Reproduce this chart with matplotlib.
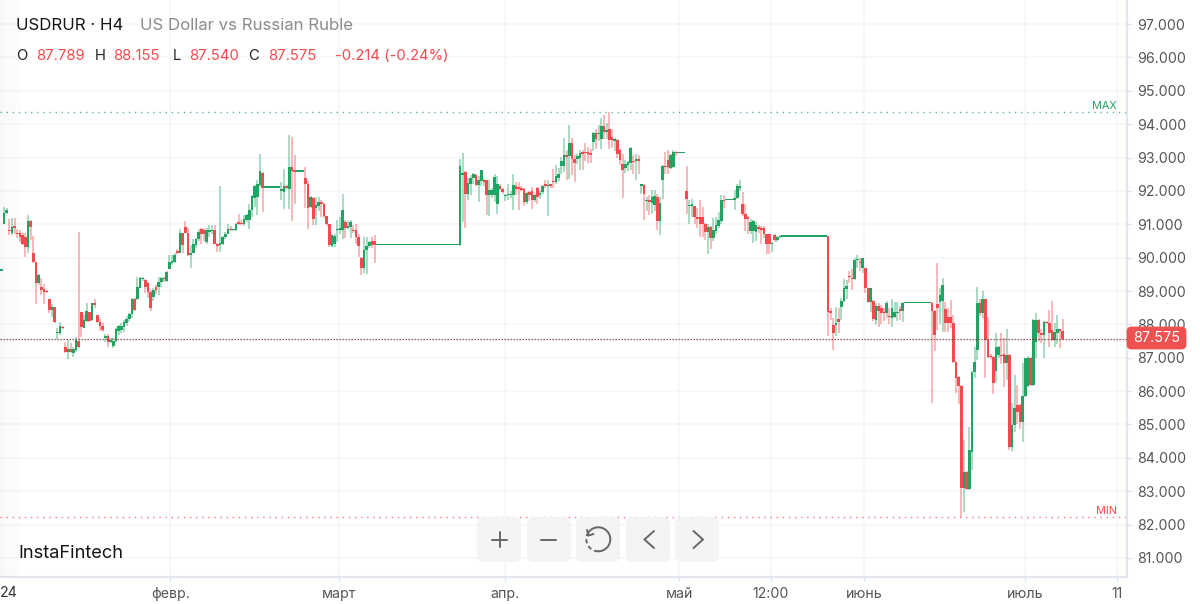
"""USDRUR H4 candlestick screen, InstaFintech style."""
import numpy as np
import matplotlib; matplotlib.use("Agg"); import matplotlib.pyplot as plt
from matplotlib.patches import FancyBboxPatch

plt.rcParams["font.family"] = ["Inter", "DejaVu Sans"]

# ---------------- candles ----------------
# jan -> mid feb
open_1 = [89.61,91.01,91.35,90.81,90.73,90.95,90.75,90.73,90.68,90.63,
          90.33,91.11,90.15,89.88,89.23,89.11,89.05,89.0,88.75,88.43,
          88.51,87.73,87.73,87.93,87.31,87.17,87.25,87.13,87.23,87.51,
          88.37,87.89,88.11,88.36,88.13,88.63,88.29,88.08,87.95,87.58,
          87.65,87.48,87.35,87.51,87.81,87.83,87.93,88.05,88.17,88.31,
          88.77,88.75,89.1,89.36,89.33,89.23,88.98,88.83,89.11,89.11,
          89.26,89.39,89.31,89.65,89.85,89.87,90.21,90.15,90.73,90.93,
          90.75,90.08,90.15,90.38,90.55,
          90.85,90.84,90.47,90.77,90.8,90.84,90.42,90.38,90.42,90.62,
          90.72,90.87,90.82,90.83,91.07,91.04,91.0,91.12,91.14,91.42,
          91.8,91.82,92.17,92.54]
high_1 = [89.65,91.53,91.48,91.15,91.2,91.2,90.85,90.82,90.73,90.73,
          91.28,91.13,90.65,89.88,89.5,89.38,89.21,89.03,88.75,88.61,
          88.51,87.88,88.08,87.95,87.48,87.53,87.43,87.33,87.61,90.76,
          88.37,88.28,88.63,88.38,88.65,88.76,88.29,88.15,88.03,87.71,
          87.7,87.58,87.58,87.88,87.98,88.05,88.13,88.25,88.33,88.78,
          88.78,89.41,89.43,89.43,89.35,89.28,89.03,89.08,89.18,89.41,
          89.41,89.42,89.6,90.08,90.08,90.13,90.25,90.85,90.73,91.11,
          90.88,90.38,90.55,90.58,90.85,
          90.9,90.88,90.9,90.97,90.97,90.97,90.45,92.14,90.66,90.76,
          91.02,90.95,90.87,91.03,91.3,91.12,91.27,91.3,91.6,91.87,
          92.17,92.32,93.1,92.57]
low_1 = [89.61,91.0,91.31,90.68,90.68,90.7,90.6,90.48,90.38,90.03,
         90.13,90.53,89.83,88.61,89.18,88.88,88.61,88.93,88.33,88.23,
         88.05,87.55,87.68,87.87,87.15,86.97,87.13,87.01,87.18,87.28,
         87.63,87.88,88.08,88.08,88.11,88.48,88.05,87.81,87.78,87.48,
         87.31,87.43,87.28,87.48,87.68,87.73,87.78,87.95,88.08,88.18,
         88.4,88.73,89.08,89.31,88.93,88.78,88.41,88.71,88.9,88.88,
         89.11,89.28,89.28,89.65,89.78,89.83,90.11,90.13,90.15,90.73,
         90.05,89.68,90.13,90.28,90.5,
         90.4,90.5,90.42,90.62,90.7,90.4,90.17,90.17,90.38,90.55,
         90.7,90.8,90.8,90.8,90.98,90.97,90.96,91.08,90.87,91.22,
         91.52,91.27,92.12,91.37]
close_1 = [89.65,91.35,91.43,90.79,90.93,90.9,90.71,90.63,90.41,90.33,
           91.11,90.91,89.88,89.25,89.49,89.03,88.98,88.97,88.43,88.51,
           88.08,87.78,87.95,87.89,87.17,87.25,87.18,87.25,87.53,87.31,
           87.93,88.13,88.41,88.11,88.63,88.59,88.07,87.95,87.83,87.65,
           87.48,87.53,87.51,87.85,87.95,87.95,88.08,88.17,88.31,88.77,
           88.43,89.11,89.4,89.4,89.11,88.98,88.48,89.03,89.03,89.28,
           89.4,89.35,89.58,89.88,89.91,90.08,90.13,90.73,90.38,90.75,
           90.08,90.15,90.41,90.55,90.78,
           90.72,90.72,90.82,90.84,90.84,90.42,90.36,90.44,90.62,90.72,
           90.87,90.82,90.84,91.02,91.0,91.0,91.17,91.27,91.42,91.84,
           92.14,92.2,92.6,92.1]
flat_1 = [92.1] * 6

open_2 = [92.0,91.98,92.14,92.07,92.72,92.62]
high_2 = [92.27,92.67,92.17,93.67,93.6,93.07]
low_2 = [91.72,91.47,92.05,91.47,91.1,91.62]
close_2 = [92.07,92.14,92.08,92.72,92.59,92.58]
flat_2 = [92.58] * 3

# late feb -> mid march
open_3 = [92.4,92.22,91.52,91.8,91.5,91.54,91.66,91.62,91.24,91.0,
          90.34,90.42,90.82,90.84,90.84,91.07,90.9,90.92,90.84,90.84,
          90.62,90.0,89.7,90.22,90.34,90.5,90.5]
high_3 = [92.72,92.3,91.85,91.82,91.82,91.82,91.72,91.65,91.26,91.02,
          90.72,90.7,91.14,91.22,91.9,91.12,91.1,91.12,90.98,91.0,
          90.72,90.02,90.62,90.62,90.5,90.62,90.67]
low_3 = [91.5,90.87,91.5,90.97,90.97,91.4,91.22,91.2,90.95,90.32,
         90.32,90.32,90.47,90.72,90.57,90.6,90.85,90.6,90.75,90.42,
         90.02,89.47,89.54,89.52,90.3,90.3,89.85]
close_3 = [92.22,91.5,91.82,91.17,91.57,91.67,91.6,91.24,91.0,90.37,
           90.67,90.64,90.87,90.9,91.42,90.9,90.94,91.07,90.79,90.62,
           90.34,89.7,90.24,90.34,90.47,90.37,90.37]
flat_3 = [90.37] * 31

# apr -> may
open_4 = [90.37,92.47,92.57,91.92,92.22,92.38,92.47,92.17,92.3,92.34,
          92.32,91.87,91.87,91.87,91.6,92.16,92.07,91.85,91.88,91.88,
          91.87,92.14,92.1,92.1,92.07,91.67,91.97,92.0,91.72,92.1,
          91.87,91.97,92.22,92.14,92.2,92.3,92.27,92.4,92.75,92.75,
          93.09,93.04,93.44,92.97,92.96,92.99,93.17,93.16,93.17,93.14,
          93.47,93.72,93.7,93.54,93.94,93.77,93.84,93.6,93.5,93.52,
          93.22,92.8,92.68,92.77,92.84,92.9,92.9,92.97,92.16,92.18,
          91.7,91.72,91.64,91.57,91.82,91.1,92.32,92.76,92.92,92.7,
          92.72,93.17]
high_4 = [92.97,93.14,92.6,92.4,92.47,92.55,92.52,92.44,92.62,92.36,
          92.32,92.32,92.1,92.52,92.44,92.2,92.1,91.92,92.2,92.0,
          92.52,92.27,92.27,92.16,92.1,91.97,92.0,92.12,91.9,92.12,
          92.0,92.17,92.32,92.32,92.22,92.67,92.77,92.7,93.02,93.57,
          93.22,93.97,93.57,93.07,93.1,93.24,93.22,93.44,93.32,93.27,
          93.77,93.84,93.97,94.17,94.27,94.02,94.36,93.84,93.58,93.54,
          93.27,93.12,92.92,92.9,93.32,93.07,93.12,93.07,92.22,92.2,
          91.82,91.87,92.04,92.04,91.92,91.82,92.77,93.17,93.22,93.12,
          93.22,93.2]
low_4 = [90.35,91.07,90.9,91.72,91.87,92.2,92.14,91.67,92.14,92.15,
         91.27,91.24,91.8,91.67,91.32,92.04,91.9,91.7,91.72,91.8,
         91.44,91.87,91.44,92.0,91.54,91.62,91.7,91.47,91.67,91.62,
         91.75,91.9,92.1,91.25,92.1,92.1,92.2,92.3,92.5,92.57,
         92.32,92.37,92.47,92.27,92.8,92.62,92.62,92.9,92.84,92.84,
         93.2,93.27,93.5,93.27,93.54,93.55,93.27,93.3,93.2,93.0,
         92.77,91.8,92.54,92.6,92.62,92.5,92.32,92.5,91.9,91.12,
         91.4,91.27,91.3,91.4,90.82,90.67,91.76,92.52,92.5,92.67,
         92.7,93.05]
close_4 = [92.74,92.54,91.92,92.24,92.4,92.52,92.17,92.32,92.62,92.27,
           91.87,92.04,92.04,92.42,92.22,92.07,91.97,91.89,91.9,91.92,
           92.17,92.07,92.07,92.04,91.67,91.94,91.87,91.74,91.87,91.82,
           91.94,92.14,92.16,92.18,92.15,92.27,92.44,92.5,92.9,93.09,
           93.02,93.44,92.97,92.84,93.04,93.14,93.12,93.14,93.12,93.07,
           93.74,93.54,93.73,93.94,93.77,93.82,93.52,93.52,93.54,93.12,
           92.94,92.62,92.8,92.87,93.3,92.87,92.97,92.89,92.2,91.9,
           91.74,91.67,91.82,91.84,91.1,91.65,92.74,92.72,92.72,93.07,
           93.17,93.14]
flat_4 = [93.14] * 3

open_5 = [92.0,91.54,91.56,91.54,91.22,91.22,91.22,91.02,90.77,90.92,
          90.6,90.8,90.94,91.1,91.74]
high_5 = [92.74,91.74,91.76,91.56,91.5,91.72,91.52,91.05,91.02,90.94,
          91.2,91.22,91.37,91.87,91.87]
low_5 = [91.32,91.02,91.22,91.0,90.9,90.62,90.62,90.52,90.1,90.27,
         90.5,90.7,90.9,91.0,91.5]
close_5 = [91.76,91.57,91.6,91.22,91.17,91.02,91.0,90.77,90.92,90.6,
           90.82,90.97,91.12,91.74,91.7]
flat_5 = [91.72] * 3

open_6 = [91.72,91.8,92.1,91.6,91.32,91.2,90.8,90.8,90.77,90.92,
          90.9,90.9,90.7,90.7,90.4,90.67,90.52,90.61]
high_6 = [92.02,92.2,92.32,91.97,91.62,91.25,91.17,91.14,91.07,90.97,
          90.95,90.94,90.72,90.72,90.46,90.7,90.65,90.67]
low_6 = [91.44,91.75,92.0,91.25,90.8,90.7,90.7,90.44,90.5,90.75,
         90.42,90.6,90.1,90.1,90.17,90.47,90.48,90.58]
close_6 = [91.8,92.14,92.16,91.32,91.17,91.17,91.07,91.1,90.97,90.87,
           90.82,90.72,90.42,90.4,90.44,90.54,90.62,90.64]
flat_6 = [90.63] * 17

# end of may -> mid june
open_7 = [90.65,88.41,87.98,87.98,88.15,88.53,88.71,89.05,89.45,89.4,
          89.35,89.92,89.88,89.68,89.68,89.08,88.68,88.71,88.13,88.55,
          88.48,88.38,88.35,88.25,88.18,88.23,88.35,88.45,88.41]
high_7 = [90.65,88.48,88.2,88.53,88.48,88.78,89.35,89.33,89.61,89.65,
          90.0,90.08,90.0,90.0,89.7,89.1,89.1,88.73,88.63,88.63,
          88.58,88.48,88.71,88.48,88.75,88.68,88.68,88.55,88.68]
low_7 = [87.64,88.13,87.23,87.65,87.75,88.13,88.68,88.75,89.25,89.03,
         89.33,89.7,89.6,89.53,88.95,88.63,88.38,88.1,87.98,87.91,
         88.0,88.1,88.2,88.0,87.91,88.18,88.1,88.13,88.08]
close_7 = [88.38,88.33,87.75,88.03,88.08,88.71,89.08,89.15,89.41,89.35,
           89.93,89.96,89.83,89.98,89.08,88.68,89.08,88.15,88.55,88.41,
           88.35,88.33,88.63,88.21,88.48,88.38,88.38,88.41,88.65]
flat_7 = [88.65] * 10

# june -> july
open_8 = [88.65,88.41,88.6,88.68,88.71,88.45,88.21,88.21,88.05,86.88,
          86.43,86.15,83.1,83.58,83.08,84.18,86.58,87.23,88.63,88.33,
          88.75,87.53,87.05,87.03,86.6,87.08,87.08,87.1,86.83,87.08,
          84.33,84.98,85.58,85.58,85.08,85.85,86.15,87.0,86.18,87.48,
          88.13,87.75,87.68,88.08,88.05,87.83,87.53,87.75,87.85,87.789]
high_8 = [88.68,88.43,89.85,89.08,89.38,88.68,88.48,88.73,88.28,86.9,
          86.45,86.17,84.53,83.6,84.93,86.6,87.33,89.11,88.75,89.0,
          88.77,88.23,87.1,87.05,87.75,87.35,87.75,87.58,87.85,87.1,
          85.63,86.48,86.18,85.6,86.83,87.0,87.05,87.02,88.15,88.35,
          88.15,87.85,88.1,88.1,88.43,88.7,88.03,88.28,87.87,88.155]
low_8 = [85.63,87.21,87.83,88.0,87.78,87.78,87.78,87.9,86.85,85.95,
         85.6,82.23,82.38,83.05,83.05,83.65,86.4,86.93,88.25,88.2,
         86.4,87.0,86.95,85.9,86.28,87.0,86.8,86.13,86.33,84.23,
         84.2,84.78,85.0,84.85,84.48,85.83,86.13,86.15,86.15,87.0,
         87.5,87.45,87.0,88.0,87.33,87.5,87.33,87.4,87.28,87.54]
close_8 = [88.41,87.68,88.48,88.88,89.18,88.03,88.03,88.05,86.88,86.38,
           86.15,83.1,83.58,83.08,84.23,86.58,86.88,88.63,88.33,88.75,
           87.53,87.03,87.01,86.23,87.33,87.33,87.05,86.83,87.08,84.33,
           84.98,85.48,85.38,85.08,85.85,86.98,87.0,86.18,88.13,88.13,
           87.73,87.68,88.08,88.03,87.73,87.53,87.78,87.85,87.81,87.575]

# tick labels and reference levels
price_ticks = [81, 82, 83, 84, 85, 86, 87, 88, 89, 90, 91, 92, 93, 94, 95, 96, 97]
time_ticks = [63.4, 126.6, 189, 254.2, 288.5, 323.6, 383.9, 418.4]
time_labels = ["февр.", "март", "апр.", "май", "12:00", "июнь", "июль", "11"]
MAX_LEVEL = 94.36
MIN_LEVEL = 82.23
LAST = 87.575

GREEN, RED = "#1fa463", "#f44a4f"
GRID = "#f5f5f5"
AXIS = "#e1e6ec"

opens = np.array(open_1 + flat_1 + open_2 + flat_2 + open_3 + flat_3 + open_4 + flat_4
                 + open_5 + flat_5 + open_6 + flat_6 + open_7 + flat_7 + open_8)
highs = np.array(high_1 + flat_1 + high_2 + flat_2 + high_3 + flat_3 + high_4 + flat_4
                 + high_5 + flat_5 + high_6 + flat_6 + high_7 + flat_7 + high_8)
lows = np.array(low_1 + flat_1 + low_2 + flat_2 + low_3 + flat_3 + low_4 + flat_4
                + low_5 + flat_5 + low_6 + flat_6 + low_7 + flat_7 + low_8)
closes = np.array(close_1 + flat_1 + close_2 + flat_2 + close_3 + flat_3 + close_4 + flat_4
                  + close_5 + flat_5 + close_6 + flat_6 + close_7 + flat_7 + close_8)
assert len(opens) == len(highs) == len(lows) == len(closes), (len(opens), len(highs), len(lows), len(closes))
idx = np.arange(len(opens))
up = closes >= opens
colors = np.where(up, GREEN, RED)

fig = plt.figure(figsize=(12, 6.04), dpi=100)
ax = fig.add_axes([0, 27 / 604, 1127 / 1200, 577 / 604])
ax.set_xlim(-0.5, 422.1)
ax.set_ylim(80.43, 97.72)

ax.vlines(idx, lows, highs, colors=colors, lw=1.2, alpha=0.45, zorder=3)
ax.bar(idx, np.maximum(np.abs(closes - opens), 0.035), bottom=np.minimum(opens, closes),
       width=1.0, color=colors, lw=0, zorder=4)

ax.axhline(MAX_LEVEL, color=GREEN, lw=1, ls=(0, (1, 3.4)), alpha=0.75, zorder=2)
ax.axhline(MIN_LEVEL, color=RED, lw=1, ls=(0, (1, 3.4)), alpha=0.75, zorder=2)
ax.axhline(LAST, color="#7a2c2c", lw=0.9, ls=(0, (1, 1.4)), zorder=5)

ax.set_yticks(price_ticks, [f"{p:.3f}" for p in price_ticks])
ax.set_xticks(time_ticks, time_labels)
ax.yaxis.tick_right()
ax.grid(color=GRID, lw=1.1, zorder=0)
ax.set_axisbelow(True)
ax.tick_params(axis="both", length=3.5, width=1, color=AXIS, labelcolor="#555555", labelsize=10.2)
ax.tick_params(axis="y", pad=3.5)
ax.tick_params(axis="x", pad=3.8)
for side in ("top", "left"):
    ax.spines[side].set_visible(False)
for side in ("right", "bottom"):
    ax.spines[side].set_color(AXIS)
    ax.spines[side].set_linewidth(1.6)

# ---------------- screen furniture, in image pixels ----------------
ov = fig.add_axes([0, 0, 1, 1], zorder=5)
ov.patch.set_alpha(0)
ov.set_xlim(0, 1200); ov.set_ylim(604, 0); ov.axis("off")

# soft fade on the left edge
fade = np.zeros((1, 24, 4)); fade[..., :3] = 0.5
fade[..., 3] = np.linspace(0.05, 0, 24)
ov.imshow(fade, extent=(0, 24, 577, 0), aspect="auto", zorder=1)
ov.set_xlim(0, 1200); ov.set_ylim(604, 0)

ov.text(16, 26, "USDRUR · H4", fontsize=12.1, color="#151515", va="center")
ov.text(140, 26, "US Dollar vs Russian Ruble", fontsize=12.1, color="#8c8c8c", va="center")
for x, s, c in [(16, "O", "#222222"), (36, "87.789", RED), (95, "H", "#222222"), (113, "88.155", RED),
                (173, "L", "#222222"), (189, "87.540", RED), (248, "C", "#222222"), (268, "87.575", RED),
                (335, "-0.214 (-0.24%)", RED)]:
    ov.text(x, 56, s, fontsize=10.7, color=c, va="center")
ov.text(18, 553, "InstaFintech", fontsize=13.2, color="#151515", va="center")
ov.text(0, 593, "24", fontsize=10.2, color="#333333", va="center")
ov.text(1117, 106, "MAX", fontsize=7.8, color=GREEN, va="center", ha="right")
ov.text(1117, 511, "MIN", fontsize=7.8, color=RED, va="center", ha="right")

# last price tag
ov.add_patch(FancyBboxPatch((1130, 330), 53, 16, boxstyle="round,pad=3.4,rounding_size=5",
                            fc="#ef5050", ec="none"))
ov.text(1156.5, 338, "87.575", fontsize=10.4, color="white", ha="center", va="center")

# zoom buttons
for x0 in (477, 527, 576, 626, 675):
    ov.add_patch(FancyBboxPatch((x0 + 4, 521), 36, 37, boxstyle="round,pad=4,rounding_size=6",
                                fc="#f4f4f4", ec="none", alpha=0.92))
ICON = dict(color="#666666", lw=1.4, solid_capstyle="round", solid_joinstyle="miter")
ov.plot([492, 507], [539.5, 539.5], **ICON)
ov.plot([499.5, 499.5], [532, 547], **ICON)
ov.plot([541, 556], [539.5, 539.5], **ICON)
t = np.radians(np.linspace(-150, 90, 40))
ov.plot(598.3 + 12 * np.cos(t), 539.3 + 12 * np.sin(t), **ICON)
t = np.radians(np.linspace(90, 210, 20))
ov.plot(598.3 + 12 * np.cos(t), 539.3 + 12 * np.sin(t), color="#666666", lw=1.4, ls=(0, (2.2, 1.6)))
ov.plot([587, 588.5, 593.5], [530, 535.5, 534], **ICON)
ov.plot([654, 644.5, 654], [531, 539.5, 548], **ICON)
ov.plot([693.5, 703, 693.5], [531, 539.5, 548], **ICON)

fig.savefig("out.png", dpi=100)
